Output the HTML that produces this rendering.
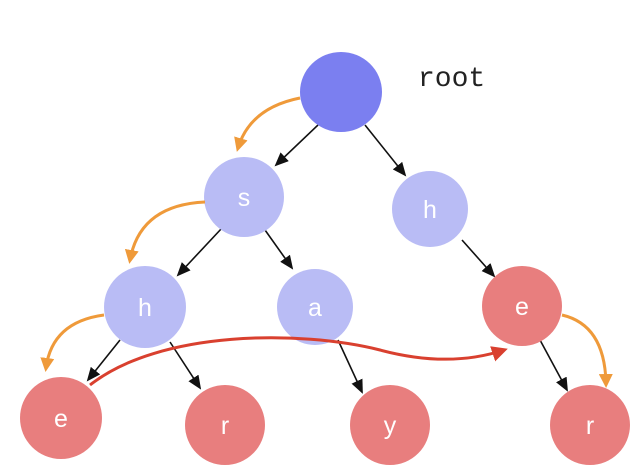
<!DOCTYPE html>
<html><head><style>body{margin:0;background:#fff}svg{display:block}</style></head>
<body>
<svg width="640" height="476" viewBox="0 0 640 476" xmlns="http://www.w3.org/2000/svg">
<defs>
<marker id="k" markerWidth="14" markerHeight="12" refX="12" refY="6" orient="auto" markerUnits="userSpaceOnUse"><path d="M0,0 L14,6 L0,12 z" fill="#111"/></marker>
<marker id="o" markerWidth="14" markerHeight="14" refX="10" refY="7" orient="auto" markerUnits="userSpaceOnUse"><path d="M0,0 L14,7 L0,14 z" fill="#ef9a3a"/></marker>
<marker id="r" markerWidth="16" markerHeight="16" refX="12" refY="8" orient="auto" markerUnits="userSpaceOnUse"><path d="M0,0 L16,8 L0,16 z" fill="#d9402f"/></marker>
</defs>
<g stroke="#111" stroke-width="1.6" fill="none" marker-end="url(#k)">
<line x1="318" y1="125" x2="276" y2="165"/>
<line x1="365" y1="125" x2="405" y2="175"/>
<line x1="222" y1="228" x2="178" y2="275"/>
<line x1="265" y1="230" x2="292" y2="268"/>
<line x1="462" y1="240" x2="494" y2="276"/>
<line x1="120" y1="340" x2="88" y2="380"/>
<line x1="170" y1="342" x2="200" y2="388"/>
<line x1="338" y1="340" x2="362" y2="392"/>
<line x1="540" y1="340" x2="567" y2="390"/>
</g>
<ellipse cx="341" cy="92" rx="41" ry="40" fill="#7b7ff0"/>
<circle cx="244" cy="197" r="40" fill="#b9bcf5"/>
<circle cx="430" cy="209" r="38" fill="#b9bcf5"/>
<circle cx="145" cy="307" r="41" fill="#b9bcf5"/>
<circle cx="315" cy="307" r="38" fill="#b9bcf5"/>
<circle cx="522" cy="306" r="40" fill="#e87e7e"/>
<circle cx="61" cy="418" r="41" fill="#e87e7e"/>
<circle cx="225" cy="425" r="40" fill="#e87e7e"/>
<circle cx="390" cy="425" r="40" fill="#e87e7e"/>
<circle cx="590" cy="425" r="40" fill="#e87e7e"/>
<g stroke="#ef9a3a" stroke-width="3" fill="none" marker-end="url(#o)">
<path d="M300,98 Q250,108 238,148"/>
<path d="M205,202 Q140,205 130,260"/>
<path d="M104,315 Q52,322 46,368"/>
<path d="M562,315 Q605,325 606,384"/>
</g>
<path d="M90,385 C160,330 300,330 380,350 C440,366 480,358 504,350" stroke="#d9402f" stroke-width="3" fill="none" marker-end="url(#r)"/>
<g font-family="Liberation Sans, sans-serif" font-size="25" fill="#fff" text-anchor="middle">
<text x="244" y="206">s</text>
<text x="430" y="218">h</text>
<text x="145" y="316">h</text>
<text x="315" y="316">a</text>
<text x="522" y="315">e</text>
<text x="61" y="427">e</text>
<text x="225" y="434">r</text>
<text x="390" y="434">y</text>
<text x="590" y="434">r</text>
</g>
<text x="418" y="86" font-family="Liberation Mono, monospace" font-size="28" fill="#222">root</text>
</svg>
</body></html>
